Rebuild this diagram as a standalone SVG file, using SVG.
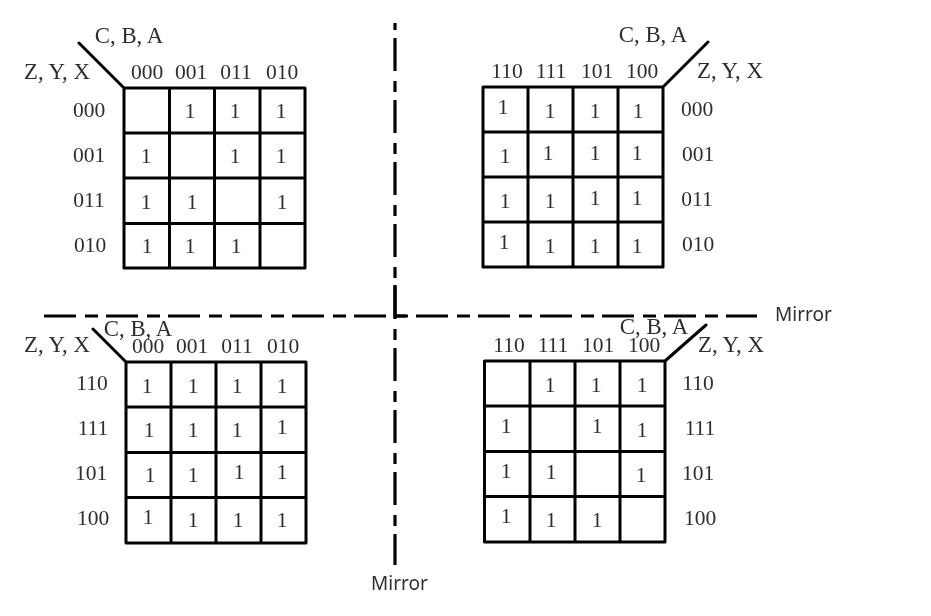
<svg xmlns="http://www.w3.org/2000/svg" width="931" height="616" viewBox="0 0 931 616">
<style>
text{font-family:"Liberation Serif","Times New Roman",serif;font-size:21.5px;fill:#2e2e2e;text-anchor:middle}
text.v{font-size:22.8px}
text.m{font-family:"Noto Sans","Open Sans",sans-serif;font-size:19px;fill:#2e2e2e}
.g{fill:none;stroke:#000;stroke-width:3;stroke-linejoin:round;stroke-linecap:round}
.d{fill:none;stroke:#000;stroke-width:3.2}
</style>
<defs><filter id="soft" filterUnits="userSpaceOnUse" x="0" y="0" width="931" height="616"><feGaussianBlur stdDeviation="0.6"/></filter></defs>
<rect width="931" height="616" fill="#fff"/>
<g filter="url(#soft)">
<g id="connectors">
<path class="d" stroke-dasharray="33 10 11 8" stroke-dashoffset="47" d="M395 23V565"/>
<path class="d" stroke-dasharray="32 9 13 8" d="M44 316H757"/>
<path class="d" d="M395 285V316H406"/>
</g>
<g id="map-top-left">
<path class="g" d="M124 88H305V268H124ZM169.500 88V268M214.500 88V268M260 88V268M124 133H305M124 178H305M124 223.500H305M79 43L124 88"/>
<text class="v" x="129" y="43">C, B, A</text><text class="v" x="57" y="79">Z, Y, X</text>
<text x="147" y="79">000</text><text x="191" y="79">001</text><text x="236" y="79">011</text><text x="282" y="79">010</text>
<text x="89" y="117">000</text><text x="89" y="162">001</text><text x="89" y="207">011</text><text x="90" y="252">010</text>
<text x="190" y="118">1</text><text x="235" y="118">1</text><text x="281" y="118">1</text>
<text x="146" y="163">1</text><text x="235" y="163">1</text><text x="281" y="163">1</text>
<text x="146" y="209">1</text><text x="192" y="209">1</text><text x="282" y="209">1</text>
<text x="147" y="253">1</text><text x="190" y="253">1</text><text x="236" y="253">1</text>
</g>
<g id="map-top-right">
<path class="g" d="M483 87H663V267H483ZM528 87V267M573 87V267M618 87V267M483 132H663M483 177H663M483 222H663M663 87L708 42"/>
<text class="v" x="653" y="42">C, B, A</text><text class="v" x="730" y="78">Z, Y, X</text>
<text x="507" y="78">110</text><text x="551" y="78">111</text><text x="597" y="78">101</text><text x="642" y="78">100</text>
<text x="697" y="116">000</text><text x="698" y="161">001</text><text x="697" y="206">011</text><text x="698" y="251">010</text>
<text x="503" y="114">1</text><text x="550" y="118">1</text><text x="595" y="118">1</text><text x="638" y="118">1</text>
<text x="505" y="163">1</text><text x="548" y="160">1</text><text x="595" y="160">1</text><text x="637" y="160">1</text>
<text x="505" y="208">1</text><text x="550" y="208">1</text><text x="595" y="205">1</text><text x="637" y="205">1</text>
<text x="504" y="249">1</text><text x="550" y="253">1</text><text x="595" y="253">1</text><text x="637" y="253">1</text>
</g>
<g id="map-bottom-left">
<path class="g" d="M126 362H306V543H126ZM171 362V543M216 362V543M261 362V543M126 407H306M126 452.500H306M126 497.500H306M93 329L126 362"/>
<text class="v" x="138" y="336">C, B, A</text><text class="v" x="57" y="352">Z, Y, X</text>
<text x="148" y="353">000</text><text x="192" y="353">001</text><text x="237" y="353">011</text><text x="283" y="353">010</text>
<text x="92" y="390">110</text><text x="93" y="435">111</text><text x="91" y="480">101</text><text x="93" y="525">100</text>
<text x="147" y="393">1</text><text x="193" y="393">1</text><text x="237" y="393">1</text><text x="282" y="393">1</text>
<text x="149" y="437">1</text><text x="193" y="437">1</text><text x="237" y="437">1</text><text x="282" y="434">1</text>
<text x="150" y="482">1</text><text x="193" y="482">1</text><text x="239" y="479">1</text><text x="282" y="479">1</text>
<text x="148" y="524">1</text><text x="193" y="527">1</text><text x="238" y="527">1</text><text x="282" y="527">1</text>
</g>
<g id="map-bottom-right">
<path class="g" d="M484.500 361H665V542H484.500ZM530 361V542M575 361V542M620 361V542M484.500 406H665M484.500 451.500H665M484.500 496.500H665M665 361L706 325"/>
<text class="v" x="654" y="334">C, B, A</text><text class="v" x="731" y="352">Z, Y, X</text>
<text x="509" y="352">110</text><text x="553" y="352">111</text><text x="598" y="352">101</text><text x="644" y="352">100</text>
<text x="698" y="390">110</text><text x="700" y="435">111</text><text x="698" y="480">101</text><text x="700" y="525">100</text>
<text x="550" y="392">1</text><text x="596" y="392">1</text><text x="642" y="392">1</text>
<text x="506" y="433">1</text><text x="597" y="433">1</text><text x="642" y="437">1</text>
<text x="506" y="478">1</text><text x="551" y="479">1</text><text x="641" y="482">1</text>
<text x="506" y="523">1</text><text x="551" y="527">1</text><text x="597" y="527">1</text>
</g>
<g id="mirror-labels">
<text class="m" x="803.500" y="321">Mirror</text>
<text class="m" x="399.500" y="590">Mirror</text>
</g>
</g>
</svg>
